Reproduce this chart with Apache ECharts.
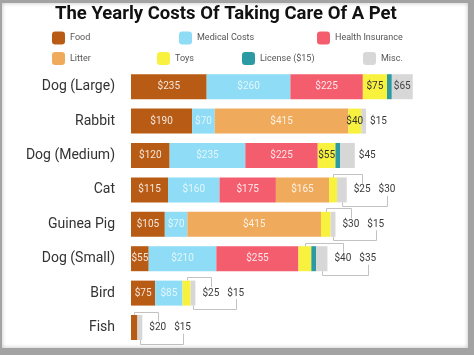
<!DOCTYPE html>
<html><head><meta charset="utf-8">
<script src="https://cdn.jsdelivr.net/npm/echarts@6/dist/echarts.min.js"></script>
<style>
html,body{margin:0;padding:0;background:#fff;}
#wrap{position:relative;width:474px;height:355px;overflow:hidden;}
#c{width:474px;height:355px;}
#frame{position:absolute;left:0;top:0;width:474px;height:355px;box-sizing:border-box;border-style:solid;border-color:#a3a3a3;border-width:3px 6px 7px 2px;box-shadow:inset 0 0 4px rgba(0,0,0,0.25);pointer-events:none;}
</style></head><body>
<div id="wrap"><div id="c"></div><div id="frame"></div></div>
<script>
const categories = ['Dog (Large)','Rabbit','Dog (Medium)','Cat','Guinea Pig','Dog (Small)','Bird','Fish'];
const food    = [235,190,120,115,105, 55,75,20];
const medical = [260, 70,235,160, 70,210,85, 0];
const health  = [225,  0,225,175,  0,255, 0, 0];
const litter  = [  0,415,  0,165,415,  0, 0, 0];
const toys    = [ 75, 40, 55, 25, 30, 40,25, 0];
const license = [ 15,  0, 15,  0,  0, 15, 0, 0];
const misc    = [ 65, 15, 45, 30, 15, 35,15,15];

const seriesNames = ['Food','Medical Costs','Health Insurance','Litter','Toys','License ($15)','Misc.'];
const seriesData = [food, medical, health, litter, toys, license, misc];
const colors = ['#b85c15','#8edcf5','#f45d6d','#f0aa5b','#f8f23f','#2b9aa3','#d7d7d7'];
const labelColors = ['rgba(255,255,255,0.85)','rgba(255,255,255,0.75)','rgba(255,255,255,0.85)','rgba(255,255,255,0.85)','#333','#333','#444'];

// which small values are written outside the bar
const outsideLabels = {
  'Rabbit': {'Misc.':'plain'},
  'Dog (Medium)': {'Misc.':'plain'},
  'Cat': {'Toys':'up','Misc.':'down'},
  'Guinea Pig': {'Toys':'up','Misc.':'down'},
  'Dog (Small)': {'Toys':'up','Misc.':'down'},
  'Bird': {'Toys':'up','Misc.':'down'},
  'Fish': {'Food':'up','Misc.':'down'}
};

const legendPos = [[52,31.5],[179,31.5],[317,31.5],[52,52],[157,52],[242,52],[363,52]];

const FONT = 'Roboto';
const chart = echarts.init(document.getElementById('c'), null, {renderer:'canvas'});

const series = seriesNames.map((name, s) => ({
  name, type:'bar', stack:'total', barWidth:25,
  itemStyle:{color:colors[s]},
  label:{show:true, position:'inside', color:labelColors[s], fontSize:10, fontFamily:FONT,
    formatter: p => '$' + p.value},
  data: seriesData[s].map((v, i) => {
    const modes = outsideLabels[categories[i]] || {};
    const show = v > 0 && name !== 'License ($15)' && !modes[name];
    return {value: v, label:{show}};
  })
}));

const legends = seriesNames.map((name, s) => ({
  data:[name], left:legendPos[s][0], top:legendPos[s][1], padding:0,
  itemWidth:13, itemHeight:13, icon:'roundRect',
  textStyle:{fontSize:9, color:'#555', fontFamily:FONT},
  selectedMode:false
}));

chart.setOption({
  animation:false,
  backgroundColor:'#fff',
  title:{text:'The Yearly Costs Of Taking Care Of A Pet', left:55, top:5, padding:0,
    textStyle:{fontSize:18.5, fontWeight:'bold', color:'#111', fontFamily:FONT}},
  legend: legends,
  grid:{left:131, top:69.5, width:322, height:275.2, containLabel:false},
  xAxis:{type:'value', min:0, max:1000, show:false},
  yAxis:{type:'category', data:categories, inverse:true,
    axisLine:{show:false}, axisTick:{show:false}, splitLine:{show:false},
    axisLabel:{fontSize:14, color:'#333', margin:16, fontFamily:FONT}},
  series
});

// outside labels with connector lines, placed through the axes
const ctx = document.createElement('canvas').getContext('2d');
ctx.font = '10px ' + FONT;
const half = 12.5;
const graphics = [];
categories.forEach((cat, i) => {
  const modes = outsideLabels[cat];
  if (!modes) return;
  const vals = seriesData.map(d => d[i]);
  const total = vals.reduce((a,b)=>a+b,0);
  const endX = chart.convertToPixel({xAxisIndex:0}, total);
  const cy = chart.convertToPixel({yAxisIndex:0}, i);
  let cursor = endX, first = true;
  seriesNames.forEach((name, s) => {
    const m = modes[name];
    if (!m) return;
    const start = vals.slice(0, s).reduce((a,b)=>a+b,0);
    const segCx = Math.round(chart.convertToPixel({xAxisIndex:0}, start + vals[s]/2)) + 0.5;
    const text = '$' + vals[s];
    const w = ctx.measureText(text).width;
    const lx = m === 'plain' ? endX + 4 : (first ? endX + 7 : cursor + 8);
    cursor = lx + w; first = false;
    graphics.push({type:'text', x:lx, y:cy, z:10,
      style:{text, fill:'#3a3a3a', font:'10px ' + FONT, align:'left', verticalAlign:'middle'}});
    const lcx = Math.round(lx + w/2) + 0.5;
    if (m === 'up') {
      const ly = Math.round(cy - half - 3.5) + 0.5;
      graphics.push({type:'polyline', z:5, shape:{points:[[segCx, cy-half],[segCx, ly],[lcx, ly],[lcx, cy-6]]},
        style:{stroke:'#c2c2c2', lineWidth:1, fill:null}});
    } else if (m === 'down') {
      const ly = Math.round(cy + half + 3.5) + 0.5;
      graphics.push({type:'polyline', z:5, shape:{points:[[segCx, cy+half],[segCx, ly],[lcx, ly],[lcx, cy+6]]},
        style:{stroke:'#c2c2c2', lineWidth:1, fill:null}});
    }
  });
});
chart.setOption({graphic: graphics});
</script>
</body></html>
